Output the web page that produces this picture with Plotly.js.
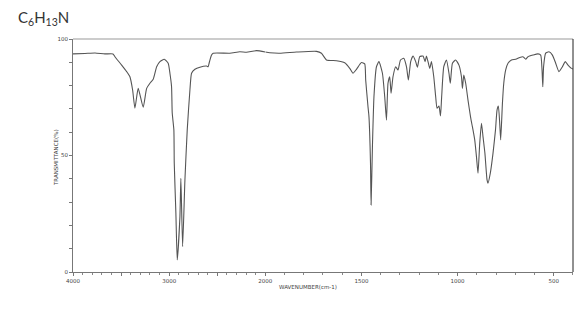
<!DOCTYPE html>
<html>
<head>
<meta charset="utf-8">
<script src="https://cdn.plot.ly/plotly-3.0.1.min.js"></script>
<style>html,body{margin:0;padding:0;background:#fff;}#chart{width:586px;height:312px;}</style>
</head>
<body>
<div id="chart"></div>
<script>
// Wavenumbers (cm-1) and transmittance (%), 4000-2000 region
const waveHigh = [4000,3875,3771,3668,3584,3564,3494,3442,3408,3380,3356,3322,3270,3234,3200,3166,3130,3096,3051,3010,2992,2975,2968,2951,2947,2930,2916,2888,2878,2860,2836,2812,2784,2767,2732,2680,2611,2594,2584,2559,2542,2369,2265,2195,2091,2000];
const transHigh = [93.6,93.8,94.0,93.6,93.6,92.4,88.8,86.0,83.8,78.1,70.3,78.8,70.7,78.8,81.0,82.7,88.1,90.3,91.3,89.6,85.3,79.5,68.2,61.0,46.8,25.3,5.2,23.7,40.2,10.9,39.5,61.0,78.1,85.3,87.0,87.9,88.4,88.1,89.7,93.1,93.9,93.9,94.5,94.3,95.0,94.4];
// 2000-400 region
const waveLow = [2000,1977,1925,1838,1734,1708,1682,1630,1587,1561,1544,1526,1500,1483,1478,1466,1461,1453,1450,1443,1435,1422,1409,1391,1379,1370,1362,1353,1346,1336,1322,1310,1297,1280,1266,1256,1244,1232,1218,1209,1197,1180,1169,1162,1152,1145,1136,1124,1114,1107,1097,1089,1083,1072,1058,1045,1038,1027,1010,993,980,975,968,958,946,933,925,920,911,902,894,885,876,868,858,847,842,830,816,803,795,788,781,776,767,760,750,738,720,698,677,660,646,634,608,582,568,561,557,553,542,525,507,490,473,455,440,426,408,400];
const transLow = [94.4,94.1,93.9,94.4,94.7,93.9,91.0,90.7,89.8,87.4,85.3,87.0,89.9,89.3,82.4,70.9,66.7,46.8,28.8,53.8,75.2,88.1,90.3,85.3,75.2,65.2,81.0,83.8,76.7,83.8,88.1,86.7,91.0,91.7,88.1,82.4,90.3,92.7,90.3,87.9,92.4,92.7,90.3,92.7,89.6,87.4,90.3,83.8,75.2,70.3,71.2,67.0,75.2,88.1,91.0,85.3,81.0,89.6,91.0,88.8,83.8,78.8,84.5,81.0,73.8,66.7,63.1,61.0,56.7,49.5,42.4,55.2,63.8,58.1,50.9,39.5,38.1,42.4,50.9,61.0,69.5,71.2,63.8,56.7,72.4,81.0,86.7,89.6,91.0,91.3,92.1,92.4,91.3,92.4,93.1,93.6,93.1,86.7,79.5,88.1,93.9,94.5,93.1,89.6,86.0,88.1,90.3,88.8,87.4,87.1];

const highTickVals = [4000,3500,3000,2500];
const highTickText = ['4000','','3000',''];
const lowTickVals = [2000,1500,1000,500];
const lowTickText = ['2000','1500','1000','500'];
const yTickVals = [0,10,20,30,40,50,60,70,80,90,100];
const yTickText = ['0','','','','','50','','','','','100'];

const titleText = 'C<sub>6</sub>H<sub>13</sub>N';
const xTitleText = 'WAVENUMBER(cm-1)';
const yTitleText = 'TRANSMITTANCE(%)';

const lineStyle = {color:'#555', width:1.1, shape:'spline', smoothing:0.5};
const split = 2000/5200;
const tickFont = {family:'DejaVu Sans', size:5.5, color:'#444'};

const traces = [
  {x:waveHigh, y:transHigh, xaxis:'x', yaxis:'y', mode:'lines', line:lineStyle, hoverinfo:'skip', showlegend:false},
  {x:waveLow, y:transLow, xaxis:'x2', yaxis:'y', mode:'lines', line:lineStyle, hoverinfo:'skip', showlegend:false}
];

const axisCommon = {
  showgrid:false, zeroline:false, showline:true, linecolor:'#777', linewidth:1,
  ticks:'outside', ticklen:3, tickcolor:'#777', tickfont:tickFont, tickmode:'array',
  minor:{tickmode:'linear', tick0:0, dtick:100, ticks:'outside', ticklen:2, tickcolor:'#888'}
};

const layout = {
  width:586, height:312,
  margin:{l:73, r:13, t:39, b:40},
  paper_bgcolor:'#fff', plot_bgcolor:'#fff',
  xaxis: Object.assign({}, axisCommon, {domain:[0, split], range:[4000,2000], anchor:'y', tickvals:highTickVals, ticktext:highTickText}),
  xaxis2: Object.assign({}, axisCommon, {domain:[split, 1], range:[2000,400], anchor:'y', tickvals:lowTickVals, ticktext:lowTickText}),
  yaxis: {range:[0,100], domain:[0,1], anchor:'x', showgrid:false, zeroline:false, showline:true, linecolor:'#777', linewidth:1,
          ticks:'outside', ticklen:3, tickcolor:'#777', tickmode:'array', tickvals:yTickVals, ticktext:yTickText, tickfont:tickFont},
  shapes:[
    {type:'line', xref:'paper', yref:'paper', x0:0, x1:1, y0:1, y1:1, line:{color:'#999', width:1}},
    {type:'line', xref:'paper', yref:'paper', x0:1, x1:1, y0:0, y1:1, line:{color:'#222', width:1}}
  ],
  annotations:[
    {text:titleText, xref:'paper', yref:'paper', x:-0.114, y:1.09, xanchor:'left', yanchor:'middle', showarrow:false,
     font:{family:'Lato', size:15, color:'#333'}},
    {text:xTitleText, xref:'paper', yref:'paper', x:0.47, y:-0.064, xanchor:'center', yanchor:'middle', showarrow:false,
     font:{family:'DejaVu Sans', size:5.5, color:'#444'}},
    {text:yTitleText, xref:'paper', yref:'paper', x:-0.034, y:0.489, xanchor:'center', yanchor:'middle', textangle:-90, showarrow:false,
     font:{family:'DejaVu Sans', size:5.5, color:'#444'}}
  ]
};

Plotly.newPlot('chart', traces, layout, {staticPlot:true, displayModeBar:false});
</script>
</body>
</html>
